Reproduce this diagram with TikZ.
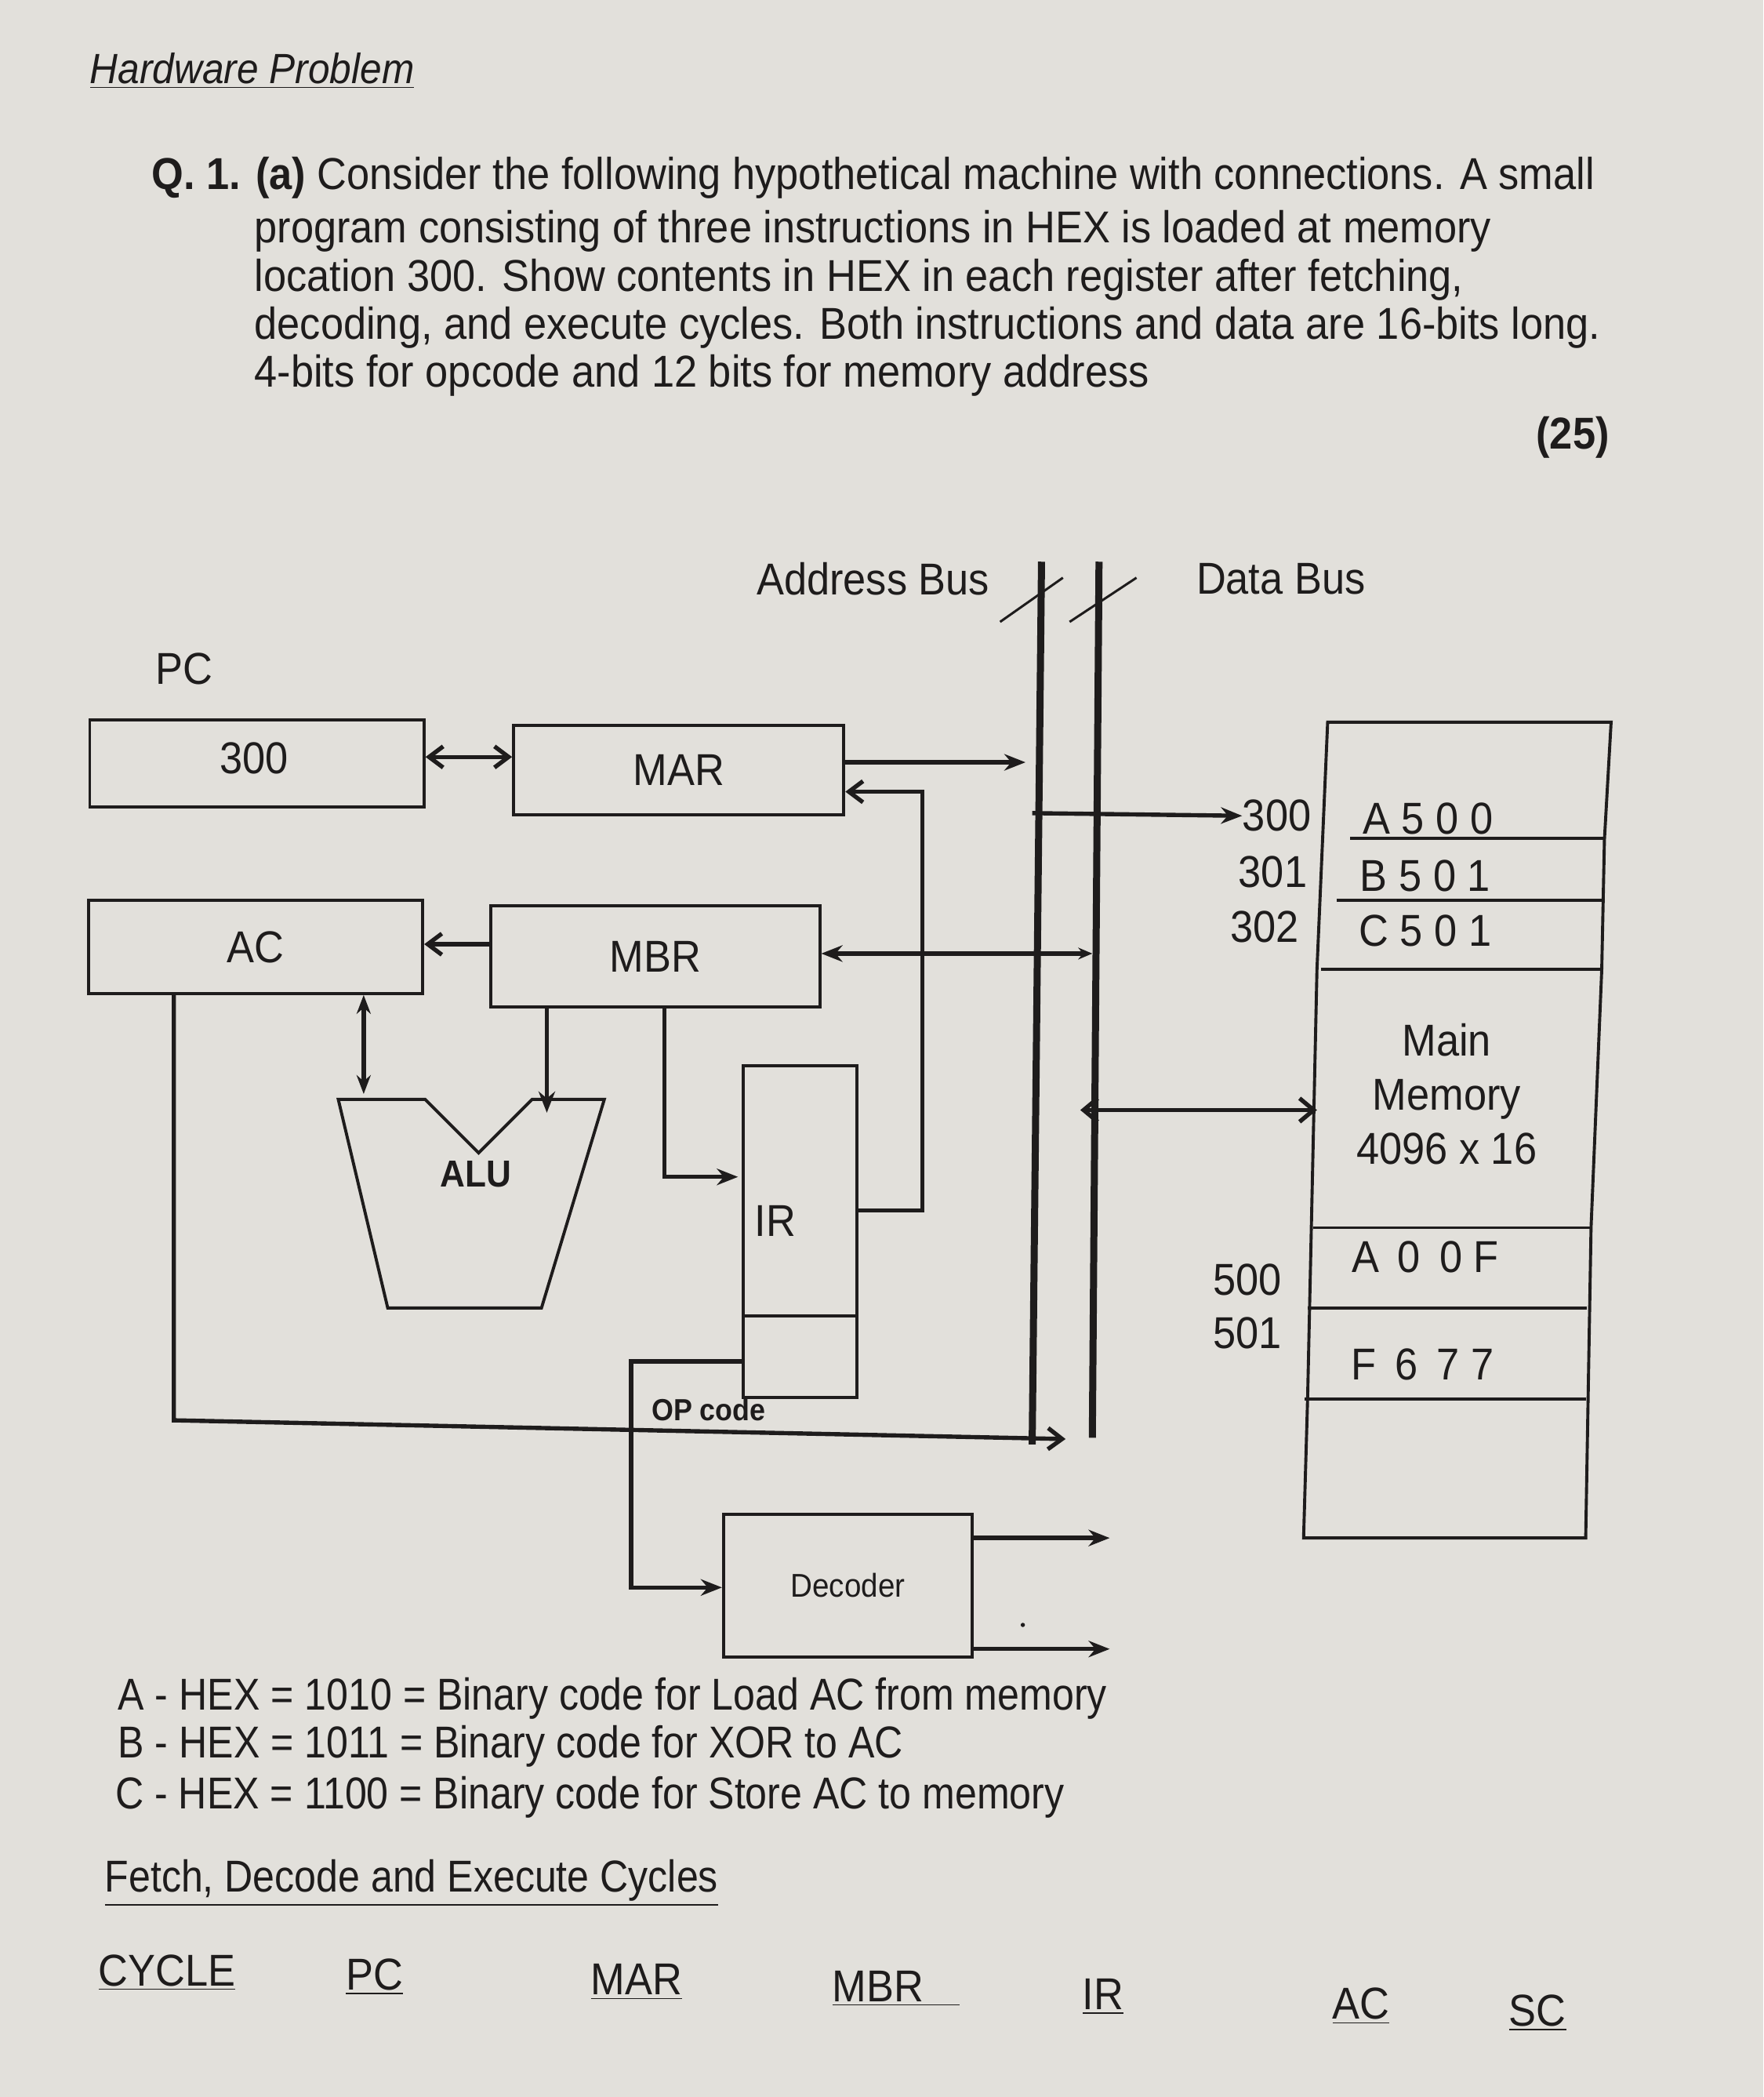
\documentclass[tikz,border=0pt]{standalone}
\usepackage{fontspec}
\setmainfont{Liberation Sans}[FakeStretch=0.92]
\newfontfamily\narrowfont{Liberation Sans}[FakeStretch=0.88]
\usetikzlibrary{arrows.meta}
\definecolor{paper}{RGB}{226,224,219}
\definecolor{ink}{RGB}{30,28,28}
\begin{document}
\begin{tikzpicture}[x=0.02cm,y=-0.02cm,
  box/.style={draw=ink,line width=1.3pt},
  conn/.style={draw=ink,line width=1.8pt},
  bus/.style={draw=ink,line width=3pt},
  txt/.style={inner sep=0,text=ink,font=\fontsize{17.5}{21}\selectfont},
  big/.style={inner sep=0,text=ink,font=\fontsize{19}{22}\selectfont},
  nar/.style={inner sep=0,text=ink,font=\narrowfont\fontsize{19}{22}\selectfont},
  lab/.style={inner sep=0,text=ink,font=\fontsize{19}{22}\selectfont},
  tip/.style={-{Stealth[length=9pt,width=7pt]}},
  otip/.style={-{Straight Barb[length=6pt,width=9pt]}}]
\fill[paper] (0,0) rectangle (1319,1568);
\useasboundingbox (0,0) rectangle (1319,1568);
% header
\node[txt,anchor=west,font=\itshape\fontsize{18}{21}\selectfont] (hp) at (67,53) {\underline{Hardware Problem}};
\node[big,anchor=north west,align=left] (q) at (113,117) {\textbf{Q. 1. (a)} Consider the following hypothetical machine with connections. A small};
\node[big,anchor=north west,align=left] (q2) at (190,157) {program consisting of three instructions in HEX is loaded at memory\\[-1.5pt]location 300. Show contents in HEX in each register after fetching,\\[-1.5pt]decoding, and execute cycles. Both instructions and data are 16-bits long.\\[-1.5pt]4-bits for opcode and 12 bits for memory address};
\node[big,anchor=east] (pts) at (1204,327) {\textbf{(25)}};
% buses
\node[lab] (ab) at (653,433) {Address Bus};
\node[lab] (db) at (958,433) {Data Bus};
\coordinate (a1) at (779,420); \coordinate (a2) at (772,1080);
\coordinate (d1) at (822,420); \coordinate (d2) at (817,1075);
\draw[bus] (a1) -- (a2);
\draw[bus] (d1) -- (d2);
\draw[ink,line width=1pt] (748,465) -- (795,432);
\draw[ink,line width=1pt] (800,465) -- (850,432);
% registers
\node[lab] (pcl) at (138,500) {PC};
\node[box,minimum width=250*0.02cm,minimum height=65*0.02cm,anchor=north west,inner sep=0] (pc) at (66,537) {};
\node[lab] at (190,567) {300};
\node[box,minimum width=247*0.02cm,minimum height=67*0.02cm,anchor=north west,inner sep=0,lab] (mar) at (383,541) {MAR};
\node[box,minimum width=250*0.02cm,minimum height=70*0.02cm,anchor=north west,inner sep=0,lab] (ac) at (65,672) {AC};
\node[box,minimum width=246*0.02cm,minimum height=76*0.02cm,anchor=north west,inner sep=0,lab] (mbr) at (366,676) {MBR};
\draw[conn,{Straight Barb[length=6pt,width=9pt]}-{Straight Barb[length=6pt,width=9pt]}] (pc.east |- 0,566) -- (mar.west |- 0,566);
\draw[conn,tip] (mar.east |- 0,570) -- (767,570);
\draw[conn,otip] (mbr.west |- 0,706) -- (ac.east |- 0,706);
\draw[conn,{Stealth[length=9pt,width=7pt]}-{Stealth[length=6pt,width=5pt]}] (mbr.east |- 0,713) -- (817,713);
% IR
\node[box,minimum width=85*0.02cm,minimum height=248*0.02cm,anchor=north west,inner sep=0] (ir) at (555,796) {};
\draw[box] (555,984) -- (640,984);
\node[lab] at (580,913) {IR};
\node[inner sep=0,text=ink,font=\bfseries\fontsize{13}{15}\selectfont] (op) at (530,1054) {OP code};
\draw[conn,otip] (640,905) -- (690,905) -- (690,592) -- (mar.east |- 0,592);
\draw[conn,tip] (mbr.south -| 497,0) -- (497,880) -- (552,880);
% ALU
\draw[box] (253,822) -- (318,822) -- (358,862) -- (398,822) -- (452,822) -- (405,978) -- (290,978) -- cycle;
\node[inner sep=0,text=ink,font=\bfseries\fontsize{16}{18}\selectfont] (alu) at (356,878) {ALU};
\draw[conn,{Stealth[length=8pt,width=6pt]}-{Stealth[length=8pt,width=6pt]}] (272,744) -- (272,818);
\draw[conn,tip] (409,752) -- (409,832);
% AC to bus
\draw[conn,otip] (130,742) -- (130,1062) -- (797,1076);
% decoder
\node[box,minimum width=186*0.02cm,minimum height=107*0.02cm,anchor=north west,inner sep=0,text=ink,font=\fontsize{14}{16}\selectfont] (dec) at (540,1131) {Decoder};
\draw[conn,tip] (555,1018) -- (472,1018) -- (472,1187) -- (dec.west |- 0,1187);
\draw[conn,tip] (dec.east |- 0,1150) -- (830,1150);
\draw[conn,tip] (dec.east |- 0,1233) -- (830,1233);
\fill[ink] (765,1215) circle (1.6);
% memory
\draw[box] (993,540) -- (1205,540) -- (1200,628) -- (1198,725) -- (1190,918) -- (1186,1150) -- (975,1150) -- (978,1046) -- (985,725) -- cycle;
\draw[box] (1010,627) -- (1200,627);
\draw[box] (1000,673) -- (1198,673);
\draw[box] (988,725) -- (1198,725);
\draw[box] (982,918) -- (1190,918);
\draw[box] (978,978) -- (1187,978);
\draw[box] (976,1046) -- (1186,1046);
\node[lab] (n300) at (955,610) {300};
\node[lab] (n301) at (952,652) {301};
\node[lab] (n302) at (946,693) {302};
\node[lab] at (1068,612) {A 5 0 0};
\node[lab] at (1066,655) {B 5 0 1};
\node[lab] at (1066,696) {C 5 0 1};
\node[lab,align=center] (mm) at (1082,818) {Main\\[1pt]Memory\\[1pt]4096 x 16};
\node[lab] (n500) at (933,957) {500};
\node[lab] (n501) at (933,997) {501};
\node[lab] at (1066,940) {A\, 0\, 0 F};
\node[lab] at (1064,1020) {F\, 6\, 7 7};
\draw[conn,tip] (772,608) -- (n300.west);
\draw[conn,{Straight Barb[length=6pt,width=10pt]}-{Straight Barb[length=6pt,width=10pt]}] (808,830) -- (985,830);
% bottom text
\node[nar,anchor=west] (l1) at (88,1270) {A - HEX = 1010 = Binary code for Load AC from memory};
\node[nar,anchor=west] (l2) at (88,1306) {B - HEX = 1011 = Binary code for XOR to AC};
\node[nar,anchor=west] (l3) at (86,1344) {C - HEX = 1100 = Binary code for Store AC to memory};
\node[nar,anchor=west] (fd) at (78,1408) {\underline{Fetch, Decode and Execute Cycles}};
\node[big] (h1) at (125,1475) {\underline{CYCLE}};
\node[big] (h2) at (280,1478) {\underline{PC}};
\node[big] (h3) at (476,1482) {\underline{MAR}};
\node[big] (h4) at (670,1487) {\underline{MBR\hspace{0.8em}}};
\node[big] (h5) at (825,1493) {\underline{IR}};
\node[big] (h6) at (1018,1500) {\underline{AC}};
\node[big] (h7) at (1150,1505) {\underline{SC}};
\end{tikzpicture}
\end{document}
